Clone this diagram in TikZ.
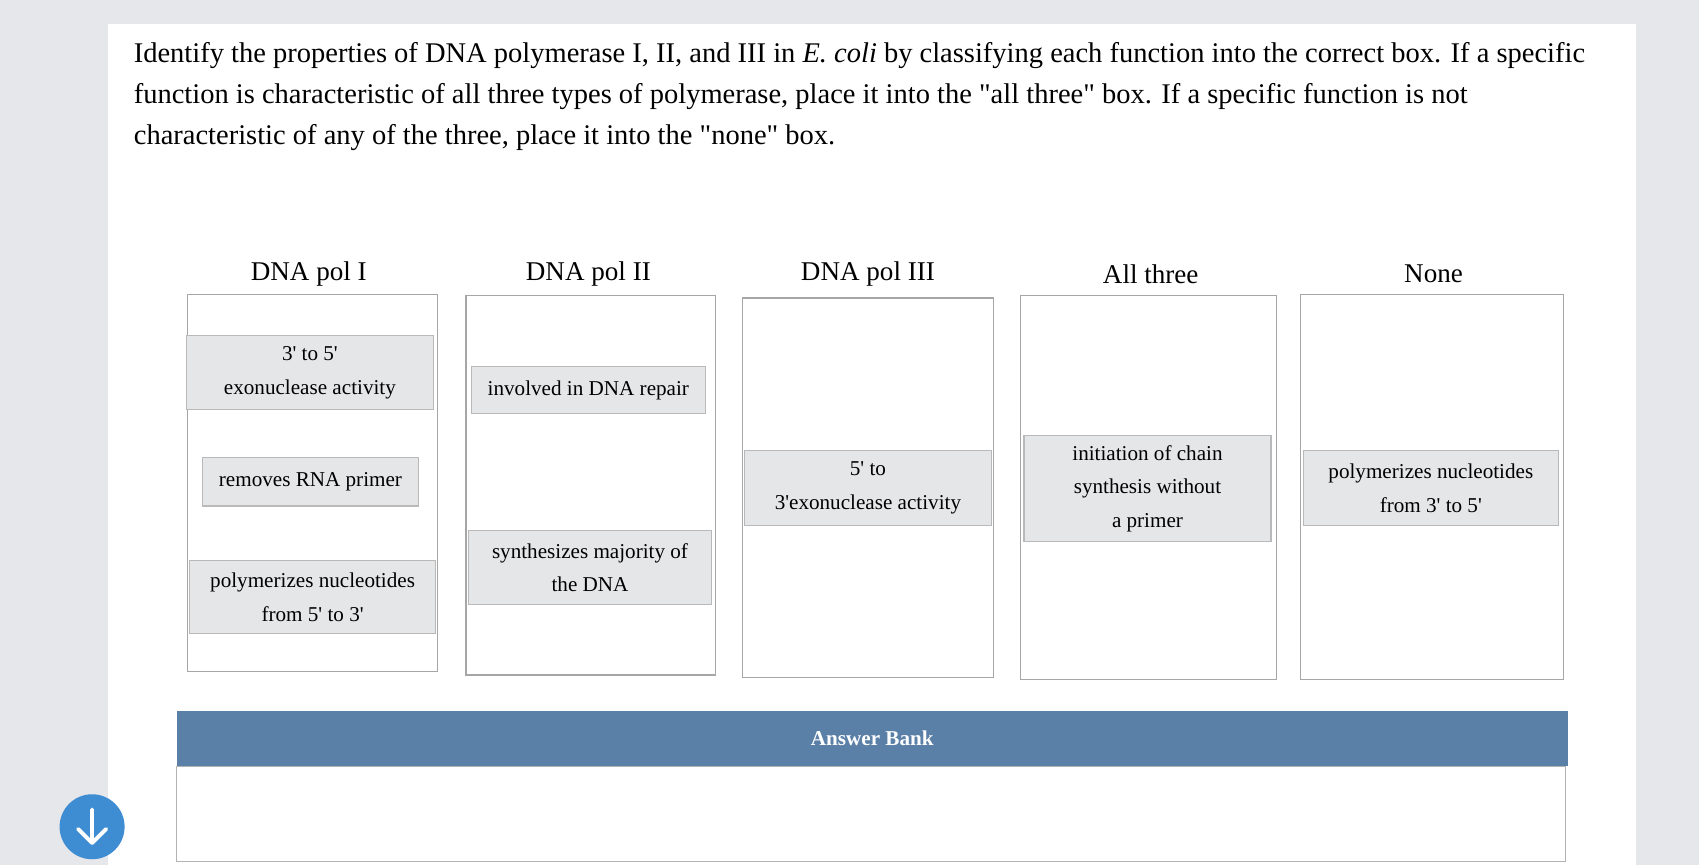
\documentclass[tikz,border=0pt]{standalone}
\usepackage{fontspec}
\setmainfont{Liberation Serif}
\definecolor{bank}{HTML}{5B80A8}
\definecolor{itm}{HTML}{E4E6E8}
\definecolor{bg}{HTML}{E6E7EA}
\newcommand{\qq}{\textquotedbl}
\newcommand{\ap}{\textquotesingle}
\begin{document}
\begin{tikzpicture}[x=1pt,y=-1pt,
  col/.style={draw=gray!70,line width=1.2pt},
  item/.style={draw=gray!55,fill=itm,line width=1pt,align=center,font=\fontsize{19.5}{31}\selectfont},
  head/.style={font=\fontsize{25}{30}\selectfont},
  body/.style={font=\fontsize{26.3}{37.5}\selectfont,anchor=north west,align=left}]
\useasboundingbox (0,0) rectangle (1568,798);
\fill[bg] (0,0) rectangle (1568,798);
\fill[white] (100,22) rectangle (1510,798);
\node[body] (q) at (120,36) {Identify the properties of DNA polymerase I, II, and III in \textit{E. coli} by classifying each function into the correct box. If a specific\\function is characteristic of all three types of polymerase, place it into the \qq all three\qq{} box. If a specific function is not\\characteristic of any of the three, place it into the \qq none\qq{} box.};
\foreach \n/\x/\t in {h1/285/DNA pol I,h2/543/DNA pol II,h3/801/DNA pol III,h4/1062/All three,h5/1323/None}
  \node[head] (\n) at (\x,253) {\t};
\draw[col] (173,272) rectangle (404,620);
\draw[col] (430,273) rectangle (660,623);
\draw[col] (685,275) rectangle (917,625);
\draw[col] (942,273) rectangle (1178,627);
\draw[col] (1200,272) rectangle (1443,627);
\node[item,minimum width=228,minimum height=68] (a1) at (286,344) {3\ap{} to 5\ap\\exonuclease activity};
\node[item,minimum width=199,minimum height=45] (a2) at (286.5,444.5) {removes RNA primer};
\node[item,minimum width=227,minimum height=68] (a3) at (288.5,551) {polymerizes nucleotides\\from 5\ap{} to 3\ap};
\node[item,minimum width=216,minimum height=44] (b1) at (543,360) {involved in DNA repair};
\node[item,minimum width=225,minimum height=68] (b2) at (544.5,524) {synthesizes majority of\\the DNA};
\node[item,minimum width=228,minimum height=69] (c1) at (801,450.5) {5\ap{} to\\3\ap exonuclease activity};
\node[item,minimum width=228,minimum height=98] (d1) at (1059,451) {initiation of chain\\synthesis without\\a primer};
\node[item,minimum width=235,minimum height=69] (e1) at (1320.5,450.5) {polymerizes nucleotides\\from 3\ap{} to 5\ap};
\node[fill=bank,minimum width=1284,minimum height=51,text=white,font=\fontsize{19.5}{22}\selectfont\bfseries] (ab) at (805,681.5) {Answer Bank};
\draw[gray!60,line width=1pt] (163,707) rectangle (1445,795);
\node[circle,fill=cyan!60!blue!80,minimum size=60] (dn) at (85,763) {};
\draw[white,line width=3.5pt,line cap=round,line join=round] (85,747)--(85,778) (72,765)--(85,778)--(98,765);
\end{tikzpicture}
\end{document}
